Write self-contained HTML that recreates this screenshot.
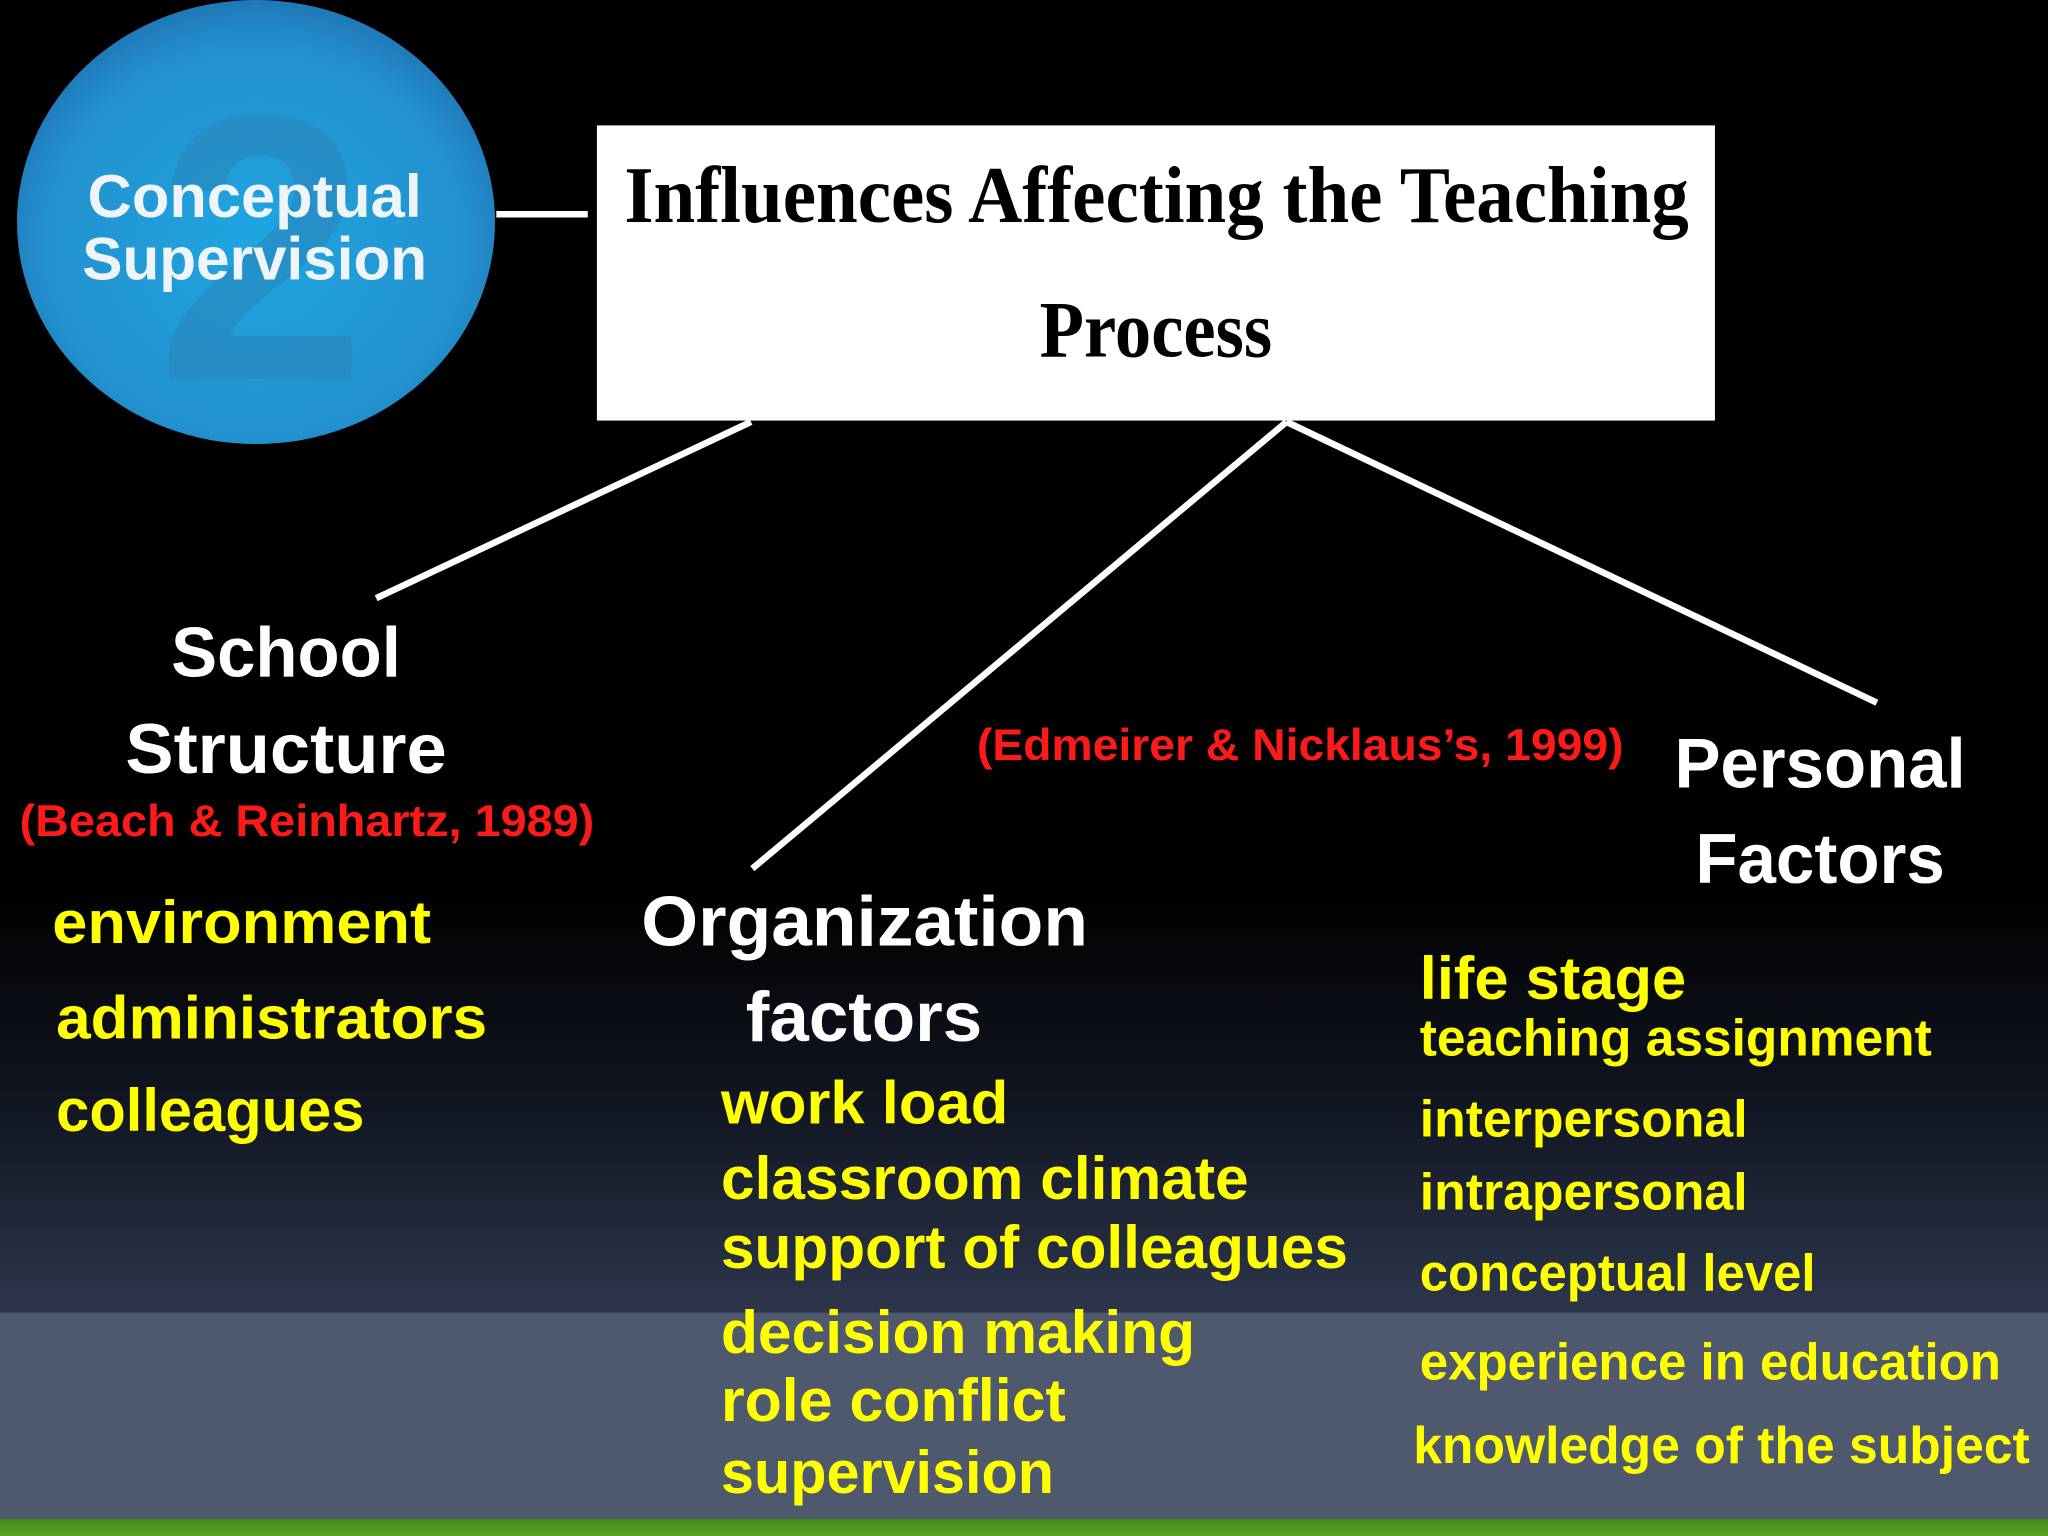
<!DOCTYPE html>
<html><head><meta charset="utf-8"><style>
html,body{margin:0;padding:0;background:#000;width:2048px;height:1536px;overflow:hidden}
svg{display:block}
.s{font-family:"Liberation Sans",sans-serif;font-weight:bold}
</style></head><body>
<svg width="2048" height="1536" viewBox="0 0 1568 1176" preserveAspectRatio="none" xmlns="http://www.w3.org/2000/svg">
<defs>
<linearGradient id="bg" x1="0" y1="0" x2="0" y2="1">
<stop offset="0" stop-color="#000"/>
<stop offset="0.58" stop-color="#000"/>
<stop offset="0.72" stop-color="#111622"/>
<stop offset="0.855" stop-color="#2d364c"/>
</linearGradient>
<radialGradient id="cg" cx="0.5" cy="0.55" r="0.55">
<stop offset="0" stop-color="#1ea6e0"/>
<stop offset="0.8" stop-color="#2391cf"/>
<stop offset="1" stop-color="#1f78b8"/>
</radialGradient>
<linearGradient id="gr" x1="0" y1="0" x2="0" y2="1">
<stop offset="0" stop-color="#3f8a1a"/><stop offset="1" stop-color="#5aa620"/>
</linearGradient>
</defs>
<rect width="1568" height="1176" fill="url(#bg)"/>
<rect y="1005" width="1568" height="158" fill="#4e596e"/>
<rect y="1163" width="1568" height="13" fill="url(#gr)"/>
<ellipse cx="196" cy="170" rx="183" ry="170" fill="url(#cg)"/>
<text x="200" y="290" text-anchor="middle" font-family="Liberation Sans,sans-serif" font-weight="bold" font-size="290" fill="#2a86bb" opacity="0.6">2</text>
<text x="195" y="166" text-anchor="middle" class="s" font-size="46" fill="#eef4f8" textLength="256" lengthAdjust="spacingAndGlyphs">Conceptual</text>
<text x="195" y="214" text-anchor="middle" class="s" font-size="46" fill="#eef4f8" textLength="264" lengthAdjust="spacingAndGlyphs">Supervision</text>
<line x1="380" y1="164" x2="450" y2="164" stroke="#fff" stroke-width="5"/>
<rect x="457" y="96" width="856" height="226" fill="#fff"/>
<text x="478" y="170" font-family="Liberation Serif,serif" font-weight="bold" font-size="62" fill="#000" textLength="815" lengthAdjust="spacingAndGlyphs">Influences Affecting the Teaching</text>
<text x="796" y="273" font-family="Liberation Serif,serif" font-weight="bold" font-size="62" fill="#000" textLength="178" lengthAdjust="spacingAndGlyphs">Process</text>
<g stroke="#fff" stroke-width="5">
<line x1="575" y1="323" x2="288" y2="458"/>
<line x1="985" y1="323" x2="576" y2="665"/>
<line x1="985" y1="323" x2="1437" y2="538"/>
</g>
<g class="s" fill="#fff" font-size="54">
<text x="131" y="518" textLength="176" lengthAdjust="spacingAndGlyphs">School</text>
<text x="96" y="592" textLength="246" lengthAdjust="spacingAndGlyphs">Structure</text>
<text x="491" y="724" textLength="342" lengthAdjust="spacingAndGlyphs">Organization</text>
<text x="571" y="797" textLength="181" lengthAdjust="spacingAndGlyphs">factors</text>
<text x="1282" y="603" textLength="223" lengthAdjust="spacingAndGlyphs">Personal</text>
<text x="1298" y="676" textLength="191" lengthAdjust="spacingAndGlyphs">Factors</text>
</g>
<g class="s" fill="#ff1a1a" font-size="34">
<text x="15" y="640" textLength="440" lengthAdjust="spacingAndGlyphs">(Beach &amp; Reinhartz, 1989)</text>
<text x="748" y="582" textLength="495" lengthAdjust="spacingAndGlyphs">(Edmeirer &amp; Nicklaus’s, 1999)</text>
</g>
<g class="s" fill="#ffff00" font-size="46">
<text x="40" y="722" textLength="290" lengthAdjust="spacingAndGlyphs">environment</text>
<text x="43" y="795" textLength="330" lengthAdjust="spacingAndGlyphs">administrators</text>
<text x="43" y="866" textLength="236" lengthAdjust="spacingAndGlyphs">colleagues</text>
<text x="552" y="860" textLength="220" lengthAdjust="spacingAndGlyphs">work load</text>
<text x="552" y="918" textLength="404" lengthAdjust="spacingAndGlyphs">classroom climate</text>
<text x="552" y="971" textLength="480" lengthAdjust="spacingAndGlyphs">support of colleagues</text>
<text x="552" y="1036" textLength="363" lengthAdjust="spacingAndGlyphs">decision making</text>
<text x="552" y="1088" textLength="264" lengthAdjust="spacingAndGlyphs">role conflict</text>
<text x="552" y="1143" textLength="255" lengthAdjust="spacingAndGlyphs">supervision</text>
<text x="1087" y="765" textLength="204" lengthAdjust="spacingAndGlyphs">life stage</text>
</g>
<g class="s" fill="#ffff00" font-size="40">
<text x="1087" y="808" textLength="392" lengthAdjust="spacingAndGlyphs">teaching assignment</text>
<text x="1087" y="870" textLength="251" lengthAdjust="spacingAndGlyphs">interpersonal</text>
<text x="1087" y="926" textLength="251" lengthAdjust="spacingAndGlyphs">intrapersonal</text>
<text x="1087" y="988" textLength="303" lengthAdjust="spacingAndGlyphs">conceptual level</text>
<text x="1087" y="1056" textLength="445" lengthAdjust="spacingAndGlyphs">experience in education</text>
<text x="1082" y="1120" textLength="472" lengthAdjust="spacingAndGlyphs">knowledge of the subject</text>
</g>
</svg>
</body></html>
